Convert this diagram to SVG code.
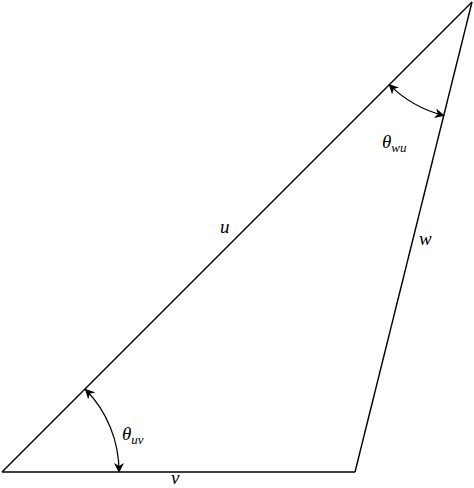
<svg xmlns="http://www.w3.org/2000/svg" width="474" height="488" viewBox="0 0 474 488">
<style>
.edge{fill:none;stroke:#000;stroke-width:1.4}
.arc{fill:none;stroke:#000;stroke-width:1.2;marker-start:url(#ah);marker-end:url(#ah)}
.lbl{font-family:"Liberation Serif","DejaVu Serif",serif;font-style:italic;font-size:19px;fill:#000}
.sub{font-size:13px}
</style>
<defs>
<marker id="ah" viewBox="0 0 10 10" refX="9" refY="5" markerWidth="10" markerHeight="10" markerUnits="userSpaceOnUse" orient="auto-start-reverse">
<path d="M0,0 L10,5 L0,10 L3,5 Z" fill="#000"/>
</marker>
</defs>
<g id="connectors">
<path class="edge" d="M2,472 L355,472"/>
<path class="edge" d="M355,472 L472,2"/>
<path class="edge" d="M472,2 L2,472"/>
<path class="arc" d="M85.5,389.5 A117,117 0 0 1 119,472"/>
<path class="arc" d="M389.3,84.7 A117,117 0 0 0 443.7,115.5"/>
</g>
<g id="label-u"><text class="lbl" x="220" y="233">u</text></g>
<g id="label-w"><text class="lbl" x="419" y="245">w</text></g>
<g id="label-v"><text class="lbl" x="171" y="484">v</text></g>
<g id="label-theta-uv"><text class="lbl" x="122" y="440">θ<tspan class="sub" dy="4">uv</tspan></text></g>
<g id="label-theta-wu"><text class="lbl" x="382" y="148">θ<tspan class="sub" dy="4">wu</tspan></text></g>
</svg>
